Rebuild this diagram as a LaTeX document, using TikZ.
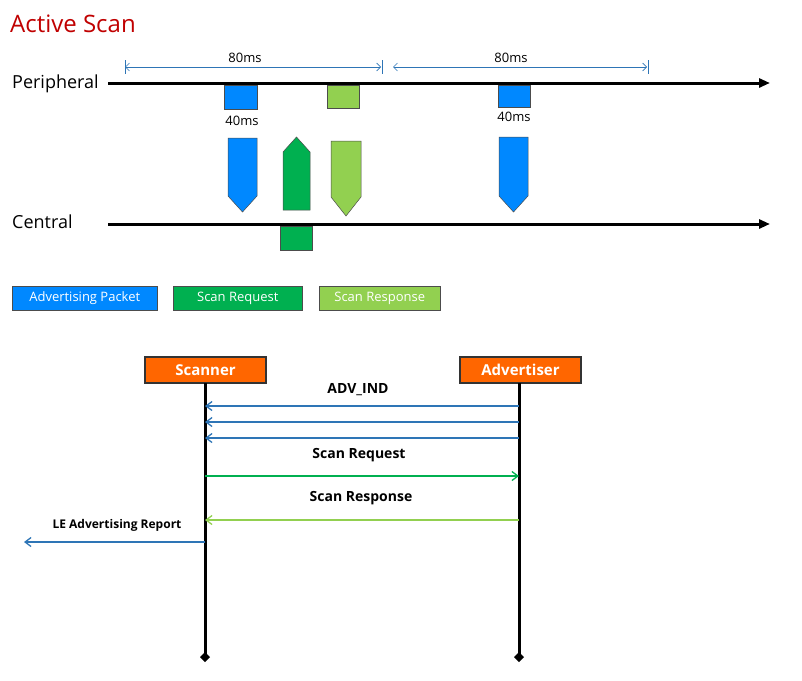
\documentclass[tikz,border=0pt]{standalone}
\usepackage{fontspec}
\setmainfont{Open Sans}
\usetikzlibrary{arrows.meta,shapes.geometric}
\definecolor{pblue}{HTML}{0088FF}
\definecolor{dgreen}{HTML}{00B050}
\definecolor{lgreen}{HTML}{92D050}
\definecolor{aorange}{HTML}{FF6600}
\definecolor{ablue}{HTML}{2E75B6}
\definecolor{tred}{HTML}{C00000}
\begin{document}
\begin{tikzpicture}[x=1pt,y=-1pt,
  pk/.style={draw=black!70,line width=0.5pt},
  lbl/.style={font=\fontsize{13}{15}\selectfont,inner sep=0},
  big/.style={font=\fontsize{18}{20}\selectfont,inner sep=0,anchor=west},
  leg/.style={draw=black!70,line width=0.5pt,minimum height=24pt,text=white,font=\fontsize{13}{15}\selectfont,anchor=west},
  actor/.style={draw=black!80,line width=1.2pt,fill=aorange,minimum width=121pt,minimum height=26pt,text=white,font=\bfseries\fontsize{15}{17}\selectfont},
  msg/.style={line width=1.3pt,-{Straight Barb[length=6pt,width=9pt]}},
  mlbl/.style={font=\bfseries\fontsize{14}{16}\selectfont,inner sep=0},
  dim/.style={ablue,line width=0.6pt,{Straight Barb[length=4pt]}-{Straight Barb[length=4pt]}},
  tl/.style={line width=3pt,-{Triangle[length=11pt,width=9pt]}}]
\useasboundingbox (0,0) rectangle (802,680);
\node[anchor=west,text=tred,font=\fontsize{24}{28}\selectfont,inner sep=0] (title) at (10,24) {Active Scan};
% timelines
\node[big] (per) at (12,84) {Peripheral};
\node[big] (cen) at (12,222) {Central};
\coordinate (p0) at (108,83); \coordinate (p1) at (770,83);
\coordinate (c0) at (108,224); \coordinate (c1) at (770,224);
\draw[tl] (p0) -- (p1);
\draw[tl] (c0) -- (c1);
% dimensions
\coordinate (d1) at (125,67); \coordinate (d2) at (381,67);
\coordinate (d3) at (393,67); \coordinate (d4) at (647,67);
\draw[ablue,line width=0.6pt] (125,60) -- (125,74) (382,60) -- (382,74) (648,60) -- (648,74);
\draw[dim] (d1) -- (d2);
\draw[dim] (d3) -- (d4);
\node[lbl] (t80a) at (245,58) {80ms};
\node[lbl] (t80b) at (511,58) {80ms};
% small packets
\draw[pk,fill=pblue] (224,85) rectangle (257,109);
\draw[pk,fill=lgreen] (327,85) rectangle (359,108);
\draw[pk,fill=pblue] (498,85) rectangle (530,107);
\draw[pk,fill=dgreen] (280,226) rectangle (312,250);
\node[lbl] (t40a) at (242,121) {40ms};
\node[lbl] (t40b) at (514,117) {40ms};
% big arrows
\draw[pk,fill=pblue] (228,138) -- (257,138) -- (257,196) -- (242.5,212) -- (228,196) -- cycle;
\draw[pk,fill=dgreen] (283,210) -- (310,210) -- (310,152) -- (296.5,137) -- (283,152) -- cycle;
\draw[pk,fill=lgreen] (331,141) -- (361,141) -- (361,197) -- (346,216) -- (331,197) -- cycle;
\draw[pk,fill=pblue] (499,137) -- (528,137) -- (528,196) -- (513.5,212) -- (499,196) -- cycle;
% legend
\node[leg,fill=pblue,minimum width=145pt] (l1) at (12,298) {Advertising Packet};
\node[leg,fill=dgreen,minimum width=129pt] (l2) at (173,298) {Scan Request};
\node[leg,fill=lgreen,minimum width=121pt] (l3) at (319,298) {Scan Response};
% sequence
\node[actor] (sc) at (205.5,370) {Scanner};
\node[actor] (ad) at (520.5,370) {Advertiser};
\coordinate (se) at (205,657); \coordinate (ae) at (519,657);
\draw[line width=3pt] (205,383) -- (se);
\draw[line width=3pt] (519,383) -- (ae);
\fill (se) +(0,-5) -- +(5,0) -- +(0,5) -- +(-5,0) -- cycle;
\fill (ae) +(0,-5) -- +(5,0) -- +(0,5) -- +(-5,0) -- cycle;
\foreach \y/\n in {406/a,422/b,438/c,476/d,520/e,542/f}{
  \coordinate (s\n) at (205,\y); \coordinate (a\n) at (519,\y);}
\coordinate (lf) at (24,542);
\node[mlbl] (m1) at (358,390) {ADV\_IND};
\draw[msg,ablue] (aa) -- (sa);
\draw[msg,ablue] (ab) -- (sb);
\draw[msg,ablue] (ac) -- (sc);
\node[mlbl] (m2) at (359,455) {Scan Request};
\draw[msg,dgreen] (sd) -- (ad);
\node[mlbl] (m3) at (361,498) {Scan Response};
\draw[msg,lgreen] (ae) -- (se);
\node[font=\bfseries\fontsize{12}{14}\selectfont,inner sep=0] (m4) at (117,525) {LE Advertising Report};
\draw[msg,ablue] (sf) -- (lf);
\end{tikzpicture}
\end{document}
